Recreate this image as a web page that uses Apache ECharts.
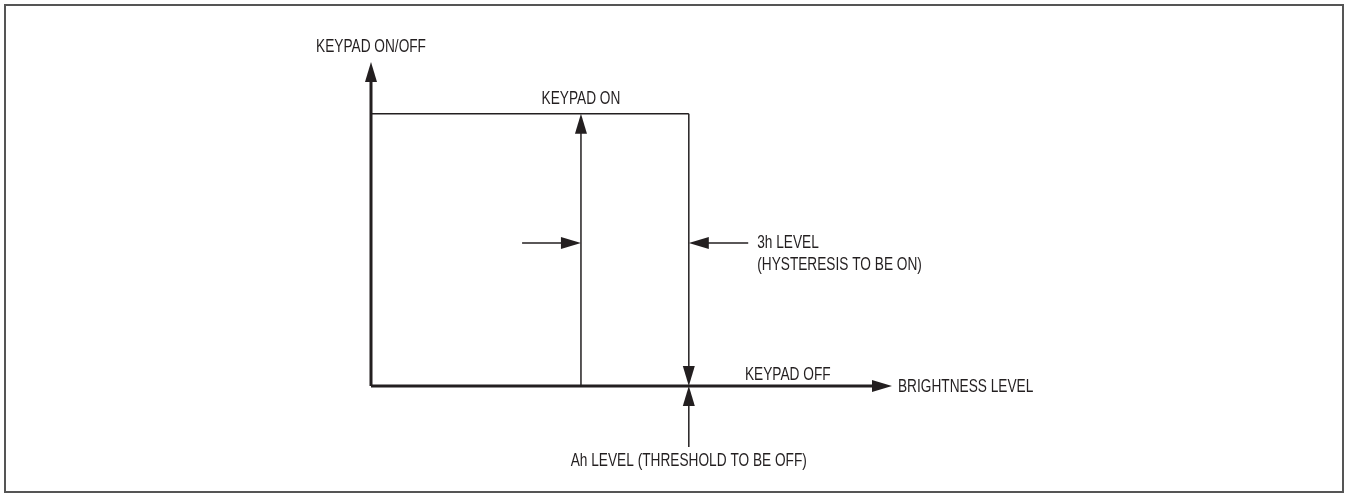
<!DOCTYPE html>
<html>
<head>
<meta charset="utf-8">
<script src="https://cdn.jsdelivr.net/npm/echarts@6/dist/echarts.min.js"></script>
<style>
  html, body { margin: 0; padding: 0; background: #fff; }
  #chart { width: 1346px; height: 497px; }
</style>
</head>
<body>
<div id="chart"></div>
<script>
// brightness thresholds (x) and keypad states (y), in axis units 0..100
const levelX = [40.3, 61.0];          // 3h level (turn on), Ah level (turn off)
const stateY = [0, 84];               // keypad off, keypad on
const markerY = 44.1;                 // height of the hysteresis marker arrows
const markerX = [29.0, 72.4];         // tails of the two marker arrows
const ahFootY = -18.8;                // tail of the Ah level arrow
const offLabelX = 80;

const axisNames = ["BRIGHTNESS LEVEL", "KEYPAD ON/OFF"];
const stateNames = ["KEYPAD OFF", "KEYPAD ON"];
const levelNames = ["3h LEVEL\n(HYSTERESIS TO BE ON)", "Ah LEVEL (THRESHOLD TO BE OFF)"];

const ink = "#231f20";
// condensed look: Liberation Sans squeezed horizontally
const font = "18px 'Liberation Sans', Arial, sans-serif";
const squeeze = 0.76;

// [x1, y1, x2, y2] - arrow head drawn at the second point
const axisArrows = [
      [0, 0, 100, 0],
      [0, 0, 0, 100],
];
const plainLines = [
      [0, stateY[1], levelX[1], stateY[1]],
];
const signalArrows = [
      [levelX[1], stateY[1], levelX[1], stateY[0]],
      [levelX[0], stateY[0], levelX[0], stateY[1]],
      [markerX[0], markerY, levelX[0], markerY],
      [markerX[1], markerY, levelX[1], markerY],
      [levelX[1], ahFootY, levelX[1], stateY[0]],
];

// texts anchored to data points, with pixel nudges
const texts = [
      { t: axisNames[1], p: [0, 100], d: [0, -15], a: "center", v: "middle" },
      { t: stateNames[1], p: [levelX[0], stateY[1]], d: [0, -14.5], a: "center", v: "middle" },
      { t: levelNames[0], p: [markerX[1], markerY], d: [9, -11], a: "left", v: "top" },
      { t: stateNames[0], p: [offLabelX, stateY[0]], d: [0, -11], a: "center", v: "middle" },
      { t: axisNames[0], p: [100, 0], d: [6, 1], a: "left", v: "middle" },
      { t: levelNames[1], p: [levelX[1], ahFootY], d: [0, 14], a: "center", v: "middle" },
];

function arrowRenderer(width, withHead) {
      return function (params, api) {
            const a = api.coord([api.value(0), api.value(1)]);
            const b = api.coord([api.value(2), api.value(3)]);
            const dx = b[0] - a[0], dy = b[1] - a[1];
            const len = Math.hypot(dx, dy);
            const ux = dx / len, uy = dy / len;
            const head = 20, half = 6;
            const end = withHead ? [b[0] - ux * (head - 2), b[1] - uy * (head - 2)] : b;
            const children = [{
                  type: "line",
                  shape: { x1: a[0], y1: a[1], x2: end[0], y2: end[1] },
                  style: { stroke: ink, lineWidth: width },
            }];
            if (withHead) {
                  const bx = b[0] - ux * head, by = b[1] - uy * head;
                  children.push({
                        type: "polygon",
                        shape: { points: [b, [bx - uy * half, by + ux * half], [bx + uy * half, by - ux * half]] },
                        style: { fill: ink },
                  });
            }
            return { type: "group", children: children };
      };
}

const chart = echarts.init(document.getElementById("chart"));
chart.setOption({
      animation: false,
      backgroundColor: "#fff",
      grid: { left: 371, right: 454, top: 62, bottom: 111 },
      xAxis: { type: "value", min: 0, max: 100, show: false },
      yAxis: { type: "value", min: 0, max: 100, show: false },
      graphic: [{
            type: "rect",
            shape: { x: 5, y: 5, width: 1338, height: 487 },
            style: { fill: "none", stroke: "#555", lineWidth: 2 },
      }],
      series: [
            {
                  type: "custom",
                  renderItem: arrowRenderer(3, true),
                  encode: { x: [0, 2], y: [1, 3] },
                  data: axisArrows,
                  silent: true,
            },
            {
                  type: "custom",
                  renderItem: arrowRenderer(1.5, false),
                  encode: { x: [0, 2], y: [1, 3] },
                  data: plainLines,
                  silent: true,
            },
            {
                  type: "custom",
                  renderItem: arrowRenderer(1.5, true),
                  encode: { x: [0, 2], y: [1, 3] },
                  data: signalArrows,
                  silent: true,
            },
            {
                  type: "custom",
                  renderItem: function (params, api) {
                        const item = texts[params.dataIndex];
                        const p = api.coord([api.value(0), api.value(1)]);
                        return {
                              type: "text",
                              x: p[0] + item.d[0],
                              y: p[1] + item.d[1],
                              scaleX: squeeze,
                              style: {
                                    text: item.t,
                                    font: font,
                                    fill: ink,
                                    align: item.a,
                                    verticalAlign: item.v,
                                    lineHeight: 22,
                              },
                        };
                  },
                  encode: { x: 0, y: 1 },
                  data: texts.map((item) => item.p),
                  silent: true,
            },
      ],
});
</script>
</body>
</html>
